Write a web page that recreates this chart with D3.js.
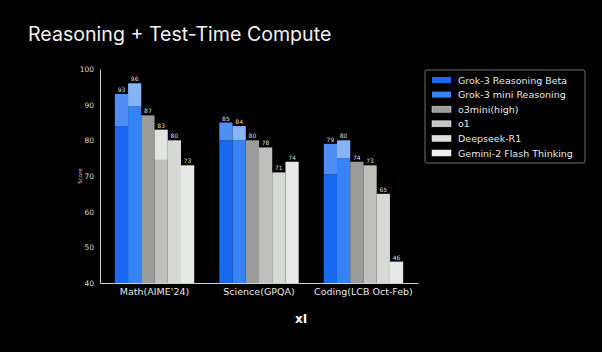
<!DOCTYPE html>
<html lang="en">
<head>
    <meta charset="UTF-8" />
    <title>Reasoning + Test-Time Compute</title>
    <script src="https://d3js.org/d3.v7.min.js"></script>
    <style>
        body { margin: 0; background: #000; }
        svg { display: block; }
    </style>
</head>
<body>
    <script>
        var w = 602;
        var h = 352;

        // data
        var categories = ["Math(AIME'24)", "Science(GPQA)", "Coding(LCB Oct-Feb)"];
        var seriesNames = ["Grok-3 Reasoning Beta", "Grok-3 mini Reasoning", "o3mini(high)", "o1", "Deepseek-R1", "Gemini-2 Flash Thinking"];
        var grok3 = [93, 85, 79];
        var grok3Base = [84, 80, 70.5];
        var grokMini = [96, 84, 80];
        var grokMiniBase = [89.5, 80, 75];
        var o3mini = [87, 80, 74];
        var o1 = [83, 78, 73];
        var o1Base = [74.5, null, null];
        var deepseek = [80, 71, 65];
        var gemini = [73, 74, 46];
        var yTicks = [40, 50, 60, 70, 80, 90, 100];

        var totals = [grok3, grokMini, o3mini, o1, deepseek, gemini];
        var bases = [grok3Base, grokMiniBase, null, o1Base, null, null];

        // base colour, lighter top colour
        var colors = [
            ["#1a68ef", "#4e8ff3"],
            ["#3583f6", "#86b4f6"],
            ["#9b9b99", "#9b9b99"],
            ["#bfc0be", "#e2e4e1"],
            ["#d6d9d5", "#d6d9d5"],
            ["#e6e9e5", "#e6e9e5"]
        ];
        var legendColors = ["#1a68ef", "#3583f6", "#9b9b99", "#c4c4c4", "#dedede", "#f0f0f0"];

        var svg = d3.select("body")
            .append("svg")
            .attr("width", w)
            .attr("height", h)
            .style("background", "#000");

        svg.append("text")
            .attr("x", 28)
            .attr("y", 41)
            .attr("fill", "#f2f2f2")
            .attr("font-family", "Inter, 'Open Sans', sans-serif")
            .attr("font-size", 19.6)
            .text("Reasoning + Test-Time Compute");

        var plotL = 100, plotR = 418, plotT = 69, plotB = 283;

        var x0 = d3.scaleBand()
            .domain(categories)
            .range([plotL, plotR])
            .paddingInner(0.24)
            .paddingOuter(0.142);

        var x1 = d3.scaleBand()
            .domain(d3.range(seriesNames.length))
            .range([0, x0.bandwidth()]);

        var y = d3.scaleLinear()
            .domain([40, 100])
            .range([plotB, plotT]);

        // bars
        categories.forEach(function(cat, ci) {
            totals.forEach(function(series, si) {
                var bx = x0(cat) + x1(si);
                var bw = x1.bandwidth();
                var total = series[ci];
                var base = bases[si] ? bases[si][ci] : null;
                if (base == null) base = total;
                svg.append("rect")
                    .attr("x", bx)
                    .attr("y", y(base))
                    .attr("width", bw)
                    .attr("height", y(40) - y(base))
                    .attr("fill", colors[si][0]);
                if (total > base) {
                    svg.append("rect")
                        .attr("x", bx)
                        .attr("y", y(total))
                        .attr("width", bw)
                        .attr("height", y(base) - y(total))
                        .attr("fill", colors[si][1]);
                }
                svg.append("text")
                    .attr("x", bx + bw / 2)
                    .attr("y", y(total) - 2)
                    .attr("text-anchor", "middle")
                    .attr("fill", "#dddddd")
                    .attr("font-family", "'DejaVu Sans', sans-serif")
                    .attr("font-size", 6)
                    .text(total);
            });
        });

        // axes
        var yAxis = d3.axisLeft(y).tickValues(yTicks).tickSize(0).tickPadding(6);
        var gy = svg.append("g")
            .attr("transform", "translate(" + plotL + ",0)")
            .call(yAxis);
        gy.select(".domain").attr("stroke", "#cfcfcf").attr("stroke-width", 1);
        gy.selectAll("text")
            .attr("fill", "#d8d8d8")
            .attr("font-family", "'DejaVu Sans', sans-serif")
            .attr("font-size", 7.5);

        var xAxis = d3.axisBottom(x0).tickSize(0).tickPadding(5);
        var gx = svg.append("g")
            .attr("transform", "translate(0," + plotB + ")")
            .call(xAxis);
        gx.select(".domain").attr("stroke", "#cfcfcf").attr("stroke-width", 1);
        gx.selectAll("text")
            .attr("fill", "#e6e6e6")
            .attr("font-family", "'DejaVu Sans', sans-serif")
            .attr("font-size", 9.5);

        svg.append("text")
            .attr("transform", "translate(82," + (plotT + plotB) / 2 + ") rotate(-90)")
            .attr("text-anchor", "middle")
            .attr("fill", "#cccccc")
            .attr("font-family", "'DejaVu Sans', sans-serif")
            .attr("font-size", 5.5)
            .text("Score");

        // legend
        var legend = svg.append("g").attr("transform", "translate(425,70)");
        legend.append("rect")
            .attr("x", 0)
            .attr("y", 0)
            .attr("width", 160)
            .attr("height", 93)
            .attr("rx", 2)
            .attr("fill", "#000")
            .attr("stroke", "#8a8a8a")
            .attr("stroke-width", 0.8);
        seriesNames.forEach(function(name, i) {
            var ly = 10 + i * 14.6;
            legend.append("rect")
                .attr("x", 7)
                .attr("y", ly - 3)
                .attr("width", 19)
                .attr("height", 6)
                .attr("fill", legendColors[i])
                .attr("stroke", i > 1 ? "#eeeeee" : "none")
                .attr("stroke-width", 0.5);
            legend.append("text")
                .attr("x", 33)
                .attr("y", ly + 3.5)
                .attr("fill", "#e8e8e8")
                .attr("font-family", "'DejaVu Sans', sans-serif")
                .attr("font-size", 9.5)
                .text(name);
        });

        // logo
        svg.append("text")
            .attr("x", 301)
            .attr("y", 323)
            .attr("text-anchor", "middle")
            .attr("fill", "#ffffff")
            .attr("font-family", "'DejaVu Sans', sans-serif")
            .attr("font-weight", "bold")
            .attr("font-size", 12)
            .text("xI");
    </script>
</body>
</html>
